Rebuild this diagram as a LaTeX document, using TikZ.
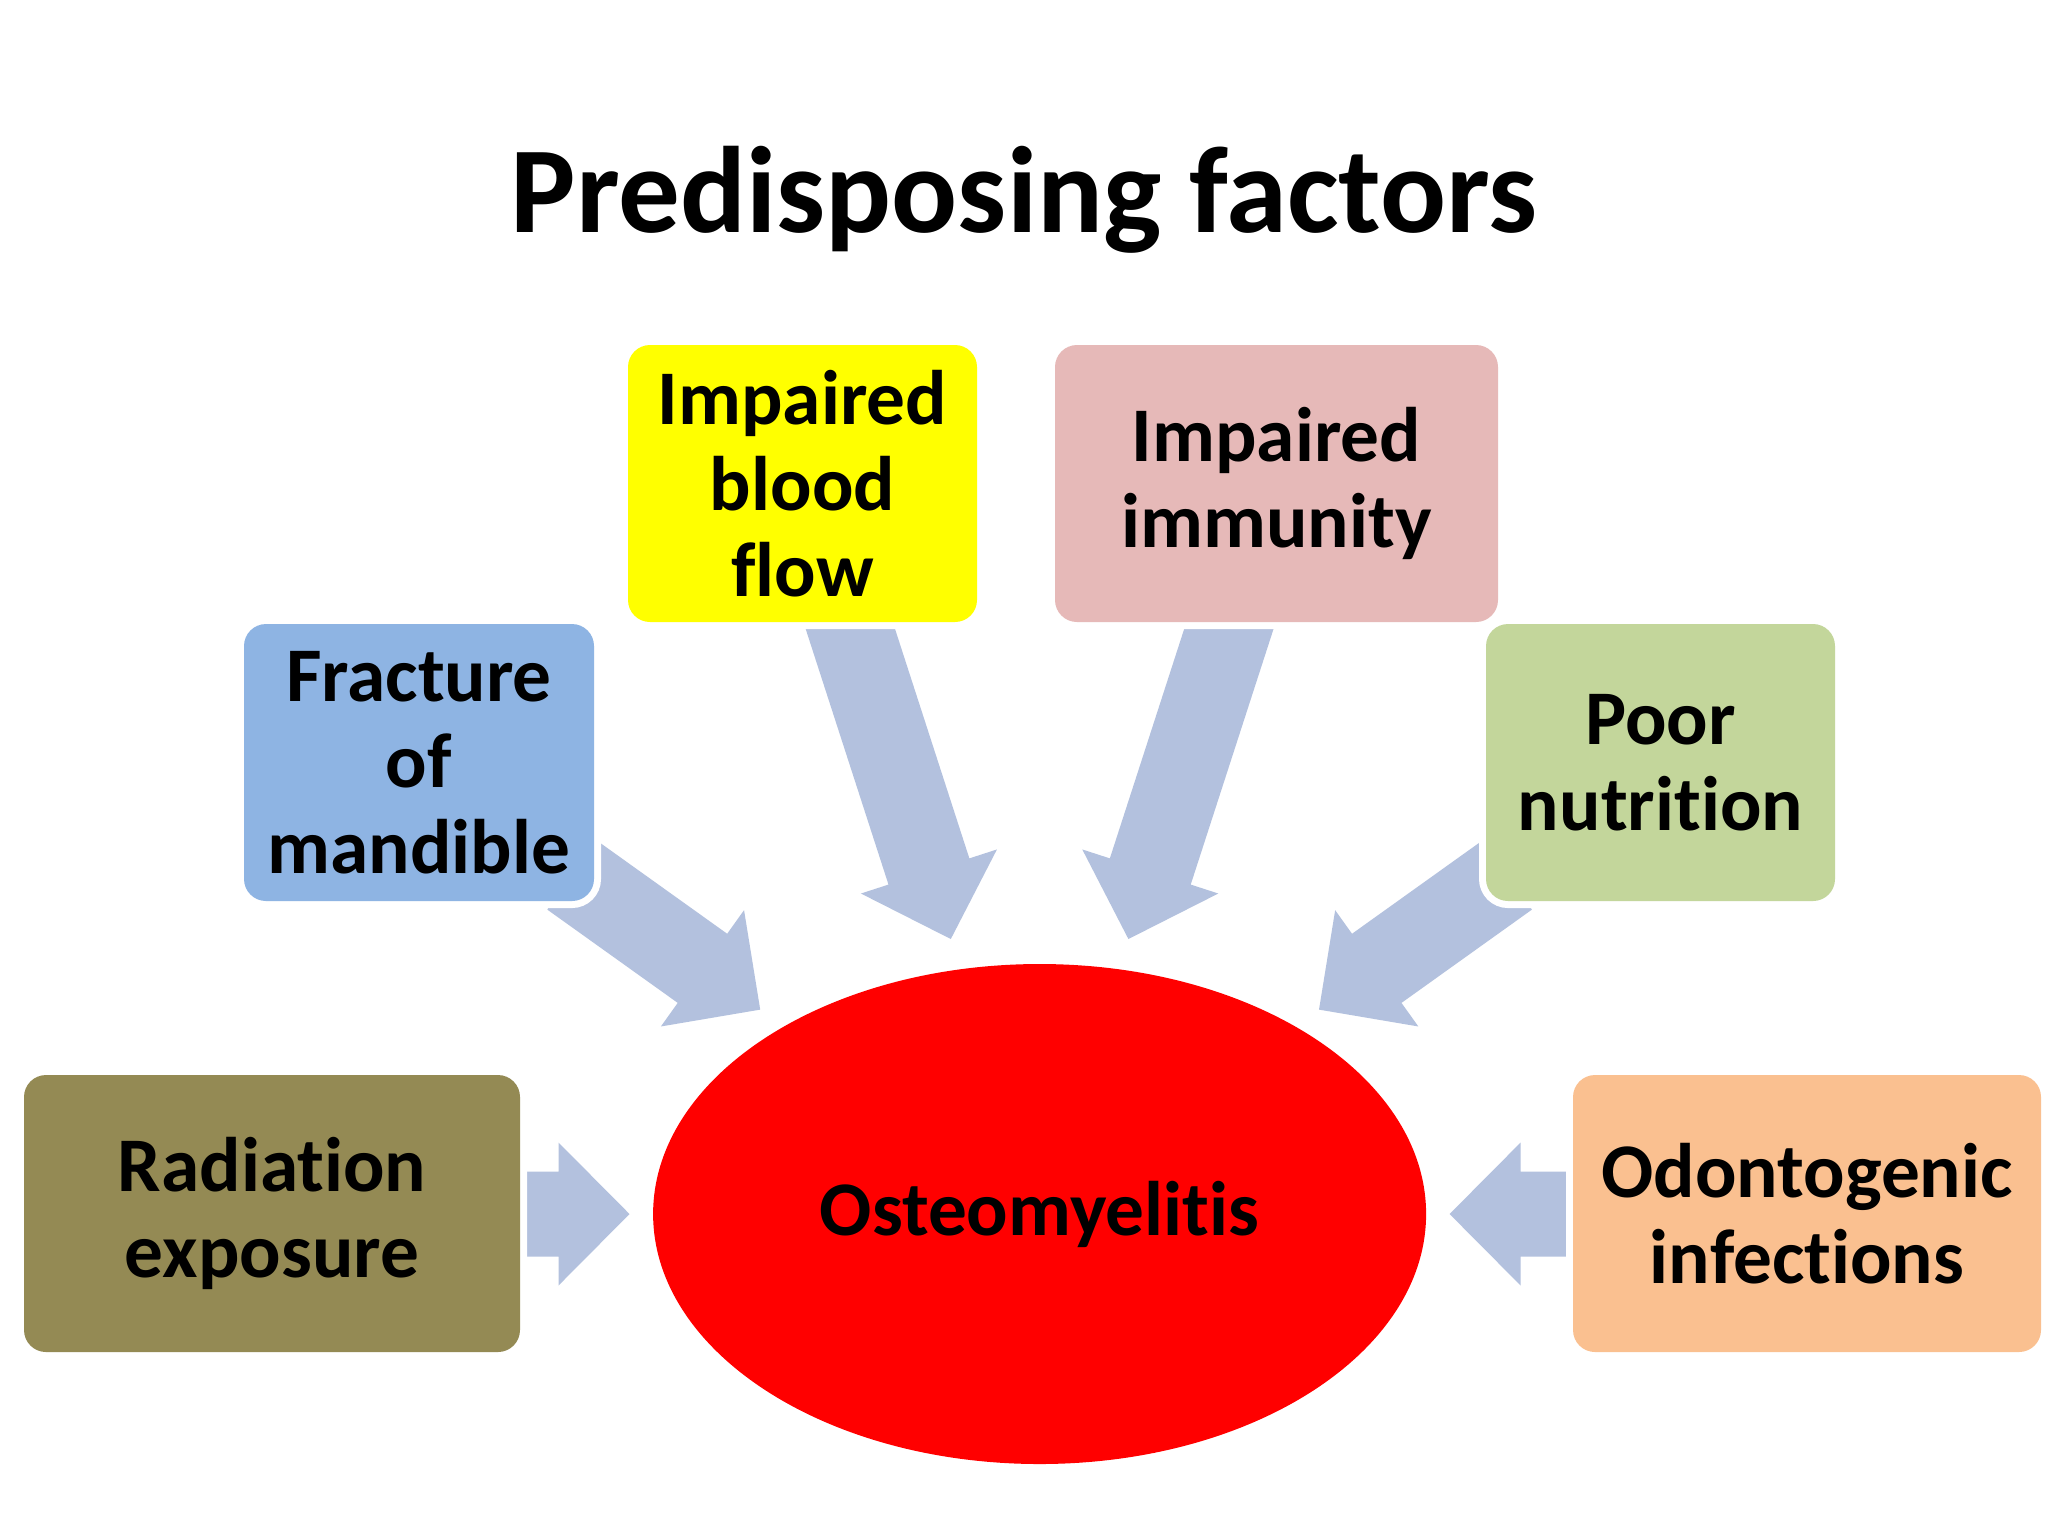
\documentclass[tikz,border=0pt]{standalone}
\usepackage{fontspec}
\setmainfont{Carlito}[Ligatures=NoCommon]
\usetikzlibrary{calc,shapes.geometric}
\definecolor{arrowc}{HTML}{B3C1DE}
\definecolor{cyellow}{HTML}{FFFF00}
\definecolor{cpink}{HTML}{E6B9B8}
\definecolor{cblue}{HTML}{8EB4E3}
\definecolor{cgreen}{HTML}{C3D69B}
\definecolor{colive}{HTML}{948A54}
\definecolor{corange}{HTML}{FAC090}
\definecolor{cred}{HTML}{FF0000}
\pgfdeclarelayer{back}
\pgfdeclarelayer{bg}
\pgfsetlayers{back,bg,main}
\newcommand{\blockarrow}[2]{%
  \coordinate (ba-s) at (#1);
  \coordinate (ba-t) at (#2);
  \coordinate (ba-b) at ($(ba-t)!7.1mm!(ba-s)$);
  \fill[arrowc] ($(ba-s)!4.25mm!90:(ba-t)$) -- ($(ba-b)!4.25mm!-90:(ba-s)$)
    -- ($(ba-b)!7.15mm!-90:(ba-s)$) -- (ba-t) -- ($(ba-b)!7.15mm!90:(ba-s)$)
    -- ($(ba-b)!4.25mm!90:(ba-s)$) -- ($(ba-s)!4.25mm!-90:(ba-t)$) -- cycle;
}
\begin{document}
\begin{tikzpicture}[x=0.1mm,y=-0.1mm,
  box/.style={rectangle, rounded corners=2.2mm, inner sep=0pt,
    minimum height=27.7mm, align=center,
    font=\fontsize{22}{24.5}\selectfont\bfseries,
    preaction={draw=white,line width=1.4mm}},
  titlestyle/.style={font=\fontsize{35}{42}\selectfont\bfseries, anchor=base, inner sep=0pt}]
\useasboundingbox (0,0) rectangle (2048,1536);
\begin{pgfonlayer}{back}
\fill[white] (0,0) rectangle (2048,1536);
\end{pgfonlayer}

\node[titlestyle] (title) at (1024,232) {Predisposing factors};

\node[box, fill=cyellow, minimum width=34.9mm] (blood) at (802.5,483.5) {Impaired\\blood\\flow};
\node[box, fill=cpink, minimum width=44.3mm] (immun) at (1276.5,483.5) {Impaired\\immunity};
\node[box, fill=cblue, minimum width=35mm] (fract) at (419,762.5) {Fracture\\of\\mandible};
\node[box, fill=cgreen, minimum width=34.9mm] (nutr) at (1660.5,762.5) {Poor\\nutrition};
\node[box, fill=colive, minimum width=49.6mm] (rad) at (272,1213.5) {Radiation\\exposure};
\node[box, fill=corange, minimum width=46.8mm] (odon) at (1807,1213.5) {Odontogenic\\infections};

\node[ellipse, fill=cred, inner sep=0pt, minimum width=77.3mm, minimum height=50mm,
  font=\fontsize{22}{24.5}\selectfont\bfseries] (osteo) at (1039.6,1214) {Osteomyelitis};

\coordinate (s1) at (572,875);   \coordinate (t1) at (760.2,1009.6);
\coordinate (s2) at (840,597);   \coordinate (t2) at (950.8,939);
\coordinate (s3) at (1239.2,597); \coordinate (t3) at (1128.4,939);
\coordinate (s4) at (1507.2,875); \coordinate (t4) at (1319,1009.6);
\coordinate (s5) at (526.5,1214); \coordinate (t5) at (629.5,1214);
\coordinate (s6) at (1566.5,1214); \coordinate (t6) at (1449.6,1214);

\begin{pgfonlayer}{bg}
\blockarrow{s1}{t1}
\blockarrow{s2}{t2}
\blockarrow{s3}{t3}
\blockarrow{s4}{t4}
\blockarrow{s5}{t5}
\blockarrow{s6}{t6}
\end{pgfonlayer}
\end{tikzpicture}
\end{document}
